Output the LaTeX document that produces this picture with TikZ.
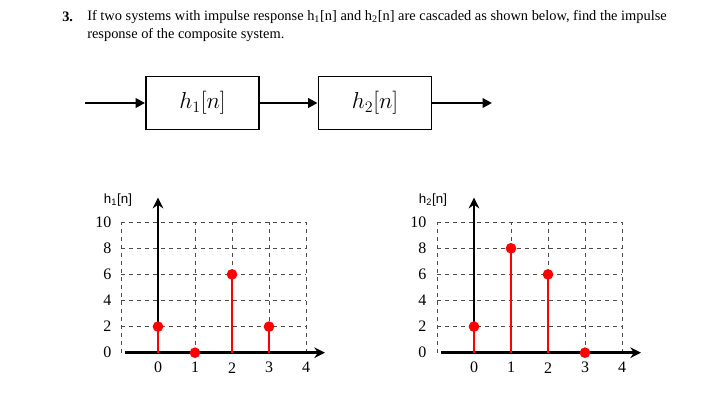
\documentclass[tikz,border=0pt]{standalone}
\usepackage{fontspec}
\setmainfont{Liberation Serif}
\newfontfamily\axfont{Liberation Sans}
\usetikzlibrary{arrows.meta}
\begin{document}
\begin{tikzpicture}[x=0.75pt,y=-0.75pt,
  blk/.style={draw,line width=1.4pt,minimum width=113*0.75pt,minimum height=53*0.75pt,font=\LARGE},
  sig/.style={line width=2pt,-{Triangle[length=7pt,width=7pt]}},
  gridl/.style={dashed,gray!60!black,line width=0.6pt},
  axis/.style={line width=2pt,-{Stealth[length=8pt,width=8pt]}},
  stem/.style={red,line width=2pt},
  dotc/.style={red,fill=red,circle,inner sep=0pt,minimum size=8pt},
  tick/.style={font=\large},
  txt/.style={anchor=west,inner sep=0pt,font=\fontsize{10.8pt}{13pt}\selectfont}]
\useasboundingbox (0,0) rectangle (725,404);
\node[txt] (n3) at (62,17) {\textbf{3.}};
\node[txt] (t1) at (87,17) {If two systems with impulse response h\textsubscript{1}[n] and h\textsubscript{2}[n] are cascaded as shown below, find the impulse};
\node[txt] (t2) at (87,35) {response of the composite system.};
\node[blk] (b1) at (202.5,103) {$h_1[n]$};
\node[blk] (b2) at (375,103) {$h_2[n]$};
\coordinate (in) at (85,103);
\coordinate (out) at (492,103);
\draw[sig] (in) -- (b1.west);
\draw[sig] (b1.east) -- (b2.west);
\draw[sig] (b2.east) -- (out);
\foreach \ox/\lbl/\vals/\yl in {158/h\textsubscript{1}[n]/{2,0,6,2}/108, 474/h\textsubscript{2}[n]/{2,8,6,0}/423}{
  \begin{scope}[shift={(\ox,352.7)}]
    \foreach \k in {1,...,5} \draw[gridl] (-37,-\k*26.1) -- (148,-\k*26.1);
    \foreach \i in {-1,1,2,3,4} \draw[gridl] (\i*37,0) -- (\i*37,-130.5);
    \draw[axis] (-33,0) -- (167,0);
    \draw[axis] (0,0) -- (0,-155);
    \foreach \i in {0,...,4} \node[tick] at (\i*37,15) {\i};
    \foreach \k in {0,2,4,6,8,10} \node[tick,anchor=east] at (\yl-\ox+8,-\k*13.05) {\k};
    \node[font=\axfont\normalsize] at (\yl-\ox+10,-153) {\lbl};
    \foreach \v [count=\c from 0] in \vals {
      \draw[stem] (\c*37,0) -- (\c*37,-\v*13.05);
      \node[dotc] at (\c*37,-\v*13.05) {};
    }
  \end{scope}
}
\end{tikzpicture}
\end{document}
